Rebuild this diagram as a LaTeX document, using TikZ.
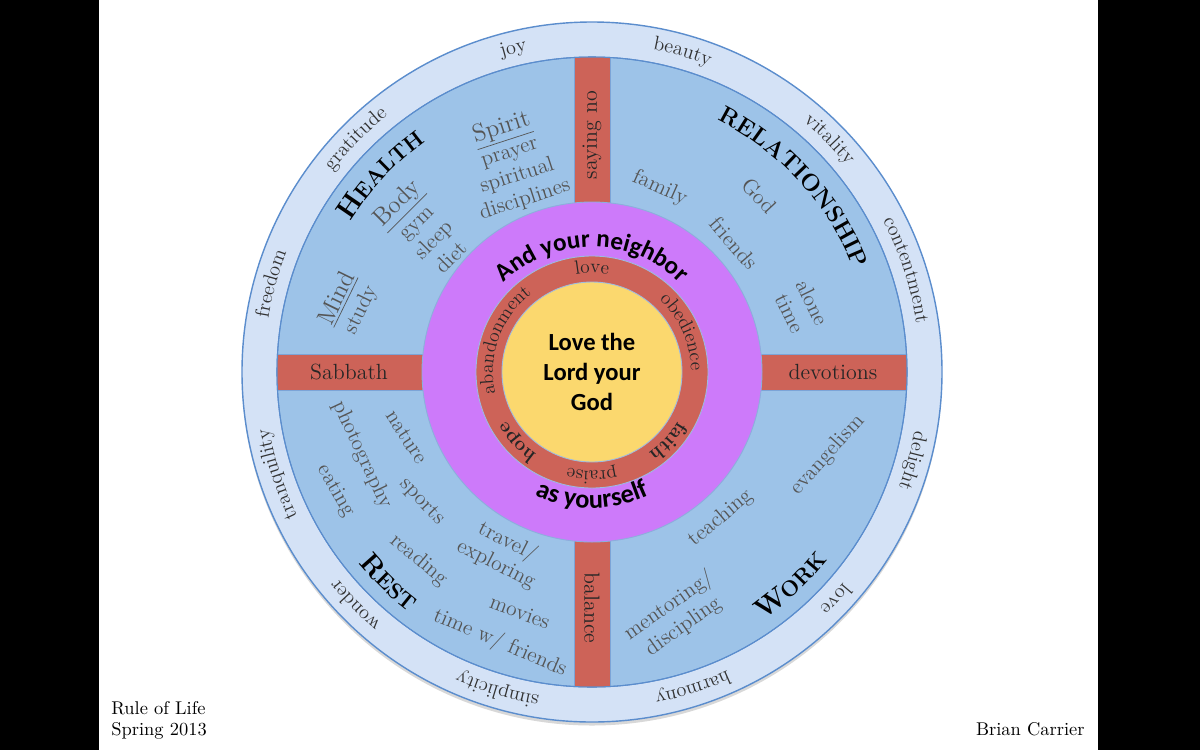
\documentclass[tikz,border=0pt]{standalone}
\usepackage{fontspec}
\newfontfamily\calibri{Carlito}
\usepackage{xcolor}
\usetikzlibrary{decorations.text}

\definecolor{ringblue}{RGB}{212,226,246}
\definecolor{quadblue}{RGB}{157,195,232}
\definecolor{edgeblue}{RGB}{91,141,205}
\definecolor{barred}{RGB}{205,99,88}
\definecolor{nbrpurple}{RGB}{205,122,250}
\definecolor{coreyellow}{RGB}{251,216,110}
\definecolor{wordgray}{RGB}{85,85,85}
\definecolor{ringtext}{RGB}{50,50,50}

\newcommand\ringfont{\fontsize{11.5}{13}\selectfont}
\newcommand\innerfont{\fontsize{11}{13}\selectfont}
\newcommand\innerbold{\fontsize{11}{13}\selectfont\bfseries}
\newcommand\nbrfont{\calibri\bfseries\fontsize{14.3}{17}\selectfont}
\newcommand\yoursfont{\calibri\bfseries\fontsize{15}{17}\selectfont}
\newcommand\capbig{\fontsize{16}{18}\selectfont\bfseries}
\newcommand\capsmall{\fontsize{12.5}{14}\selectfont\bfseries}
\newcommand\capfull{\fontsize{13.5}{15}\selectfont\bfseries}
\newcommand\bodyfont{\fontsize{14}{16}\selectfont}

\begin{document}
\begin{tikzpicture}[
    ringword/.style={decorate, decoration={text along path, text align=center, text color=ringtext}},
    head/.style={ringword, decoration={text color=black}},
    word/.style={text=wordgray, font=\fontsize{12.3}{14.2}\selectfont, align=center, inner sep=0pt},
    barlabel/.style={text=black!85, font=\fontsize{12.5}{14}\selectfont, inner sep=0pt},
    note/.style={font=\fontsize{10.5}{12.5}\selectfont, inner sep=0pt}]

  \useasboundingbox (-11.84,-7.56) rectangle (12.16,7.44);
  \fill[white] (-11.84,-7.56) rectangle (12.16,7.44);
  \fill[black] (-11.84,-7.56) rectangle (-9.86,7.44);
  \fill[black] (10.12,-7.56) rectangle (12.16,7.44);

  % wheel
  \fill[black!30, opacity=0.5] (0,-0.07) circle (7.0);
  \filldraw[fill=ringblue, draw=edgeblue, line width=0.8pt] (0,0) circle (7.0);
  \filldraw[fill=quadblue, draw=edgeblue, line width=0.6pt] (0,0) circle (6.3);
  \begin{scope}
    \clip (0,0) circle (6.3);
    \filldraw[fill=barred, draw=edgeblue!80, line width=0.4pt] (-0.36,-6.4) rectangle (0.36,6.4);
    \filldraw[fill=barred, draw=edgeblue!80, line width=0.4pt] (-6.4,-0.36) rectangle (6.4,0.36);
  \end{scope}
  \draw[edgeblue, line width=0.6pt] (0,0) circle (6.3);
  \filldraw[fill=nbrpurple, draw=edgeblue!70, line width=0.5pt] (0,0) circle (3.4);
  \filldraw[fill=barred, draw=edgeblue!60, line width=0.5pt] (0,0) circle (2.32);
  \filldraw[fill=coreyellow, draw=edgeblue!60, line width=0.5pt] (0,0) circle (1.8);

  \node[font=\calibri\bfseries\fontsize{14}{17}\selectfont, align=center] (core) at (0,0) {Love the\\Lord your\\God};

  % rings of words
  \foreach \a/\w in {103.7/joy, 74.2/beauty, 44.4/vitality, 18/contentment, -15.5/delight, -43/love,
      -72.3/harmony, -106.6/simplicity, -135.4/wonder, -162/tranquility, 164.6/freedom, 135.4/gratitude}
    \path[ringword, decoration={text/.expanded={|\noexpand\ringfont|\w}}]
      (\a+40:6.56) arc[start angle=\a+40, end angle=\a-40, radius=6.56];
  \foreach \a/\w in {90/love, 24/obedience, -90/praise, 160/abandonment}
    \path[ringword, decoration={text color=black!85, text/.expanded={|\noexpand\innerfont|\w}}]
      (\a+80:1.98) arc[start angle=\a+80, end angle=\a-80, radius=1.98];
  \foreach \a/\w in {-42.5/faith, -137/hope}
    \path[ringword, decoration={text color=black!85, text/.expanded={|\noexpand\innerbold|\w}}]
      (\a+80:1.98) arc[start angle=\a+80, end angle=\a-80, radius=1.98];

  \path[ringword, decoration={text color=black, text={|\nbrfont|And your neighbor}}]
    (150:2.5) arc[start angle=150, end angle=30, radius=2.5];
  \path[ringword, decoration={text color=black, text={|\yoursfont|as yourself}}]
    (-150:2.72) arc[start angle=-150, end angle=-30, radius=2.72];

  % quadrant headings
  \path[head, decoration={text={|\capbig|H|\capsmall|EALTH}}] (177:5.69) arc[start angle=177, end angle=97, radius=5.69];
  \path[head, decoration={text={|\capfull|RELATIONSHIP}}] (82.5:5.63) arc[start angle=82.5, end angle=2.5, radius=5.63];
  \path[head, decoration={text={|\capbig|R|\capsmall|EST}}] (196:6.03) arc[start angle=196, end angle=256, radius=6.03];
  \path[head, decoration={text={|\capbig|W|\capsmall|ORK}}] (-77:6.03) arc[start angle=-77, end angle=-17, radius=6.03];

  % bars
  \node[barlabel, rotate=90] (sayno) at (0,4.74) {saying no};
  \node[barlabel, rotate=-90] (balance) at (0,-4.72) {balance};
  \node[barlabel] (devotions) at (4.82,0) {devotions};
  \node[barlabel] (sabbath) at (-4.86,0) {Sabbath};

  % health
  \node[word, rotate=45] (body) at (-3.38,2.86) {{\bodyfont\underline{Body}}\\[1pt]gym\\sleep\\diet};
  \node[word, rotate=18] (spirit) at (-1.58,4.18) {{\bodyfont\underline{Spirit}}\\prayer\\spiritual\\disciplines};
  \node[word, rotate=64] (mind) at (-4.86,1.36) {{\bodyfont\underline{Mind}}\\study};
  % relationship
  \node[word, rotate=-24] (family) at (1.36,3.68) {family};
  \node[word, rotate=-47] (god) at (3.34,3.52) {God};
  \node[word, rotate=-49] (friends) at (2.84,2.58) {friends};
  \node[word, rotate=-64] (alone) at (4.18,1.28) {alone\\time};
  % rest
  \node[word, rotate=-65] (photo) at (-4.60,-1.66) {photography};
  \node[word, rotate=-57] (nature) at (-3.70,-1.30) {nature};
  \node[word, rotate=-60] (eating) at (-5.12,-2.38) {eating};
  \node[word, rotate=-46] (sports) at (-3.40,-2.60) {sports};
  \node[word, rotate=-27] (travel) at (-1.80,-3.62) {travel/\\exploring};
  \node[word, rotate=-40] (reading) at (-3.46,-3.76) {reading};
  \node[word, rotate=-20] (movies) at (-1.44,-4.80) {movies};
  \node[word, rotate=-23] (friendtime) at (-1.84,-5.42) {time w/ friends};
  % work
  \node[word, rotate=48] (evang) at (4.72,-1.66) {evangelism};
  \node[word, rotate=40] (teach) at (2.58,-2.92) {teaching};
  \node[word, rotate=35] (mentor) at (1.68,-4.88) {mentoring/\\discipling};

  \node[note, anchor=base west] (title) at (-9.62,-6.84) {Rule of Life};
  \node[note, anchor=base west] (season) at (-9.62,-7.26) {Spring 2013};
  \node[note, anchor=base east] (author) at (9.86,-7.26) {Brian Carrier};
\end{tikzpicture}
\end{document}
